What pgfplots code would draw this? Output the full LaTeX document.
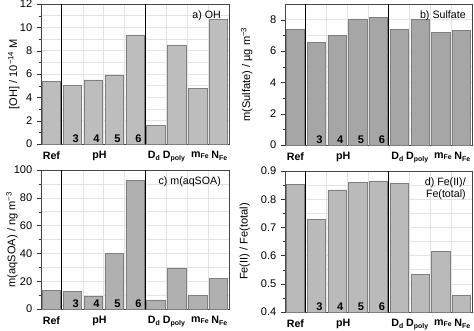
\documentclass[border=0pt]{standalone}
\usepackage{fontspec}
\setmainfont{Liberation Sans}
\usepackage{pgfplots}
\pgfplotsset{compat=1.18}
\definecolor{barA}{HTML}{BDBDBD}
\definecolor{barB}{HTML}{A6A6A6}
\definecolor{barC}{HTML}{B0B0B0}
\definecolor{barD}{HTML}{BABABA}
\definecolor{barEdge}{HTML}{7F7F7F}
\newcommand{\sub}[1]{\textsubscript{\fontsize{5.2}{6}\selectfont #1}}
\pgfplotsset{
 panel/.style={
  scale only axis, anchor=south west,
  xmin=-0.5, xmax=8.5,
  ybar, bar width=0.88,
  xtick={0,2.3,4.92,5.88,7.12,8.05},
  xticklabels={Ref,pH,D\sub{d},D\sub{poly},m\sub{Fe},N\sub{Fe}},
  xticklabel style={font=\fontsize{8}{9}\selectfont\bfseries, yshift=1pt},
  x tick style={draw=none},
  minor xtick={1.5,2.5,3.5,5.5,6.5,7.5},
  xminorgrids,
  extra x ticks={0.5,4.5},
  extra x tick labels={},
  extra x tick style={grid=major, major grid style={black, line width=0.9pt}},
  ymajorgrids, yminorgrids,
  grid style={gray!22},
  major grid style={gray!22},
  minor grid style={gray!22},
  minor y tick num=1,
  ytick pos=left, tick align=outside,
  major tick length=3pt, minor tick length=1.8pt,
  tick style={gray!40!black},
  axis line style={gray!55!black},
  yticklabel style={font=\fontsize{8.3}{9}\selectfont},
  ylabel style={font=\fontsize{8.3}{9}\selectfont, anchor=center},
  /pgf/number format/assume math mode=true,
  clip=true,
 },
}
\tikzset{
 lbl/.style={font=\fontsize{8.3}{9}\selectfont\bfseries, anchor=south, inner sep=1pt, xshift=2.5pt},
 ttl/.style={font=\fontsize{8}{9.5}\selectfont, anchor=north east, align=right, inner sep=1pt},
}
\begin{document}
\begin{tikzpicture}
\useasboundingbox (0,0) rectangle (355.5pt,247.5pt);
% a) OH
\begin{axis}[panel, at={(30.75pt,139.5pt)}, width=141pt, height=105pt,
  ymin=0, ymax=12, ytick={0,2,...,12},
  ylabel={[OH] / 10\textsuperscript{−14} M},
  ylabel style={at={(axis description cs:-0.145,0.5)}}]
\addplot[fill=barA, draw=barEdge] coordinates {(0,5.4) (1,5.05) (2,5.5) (3,5.85) (4,9.35) (5,1.6) (6,8.5) (7,4.8) (8,10.7)};
\node[ttl] at (rel axis cs:0.965,0.965) {a) OH};
\node[lbl] at (axis cs:1,0) {3};
\node[lbl] at (axis cs:2,0) {4};
\node[lbl] at (axis cs:3,0) {5};
\node[lbl] at (axis cs:4,0) {6};
\end{axis}
% b) Sulfate
\begin{axis}[panel, at={(213.75pt,138.75pt)}, width=140.25pt, height=105.75pt,
  ymin=0, ymax=9, ytick={0,2,...,8},
  ylabel={m(Sulfate) / µg m\textsuperscript{−3}},
  ylabel style={at={(axis description cs:-0.205,0.5)}}]
\addplot[fill=barB, draw=barEdge] coordinates {(0,7.4) (1,6.55) (2,7.0) (3,8.05) (4,8.15) (5,7.4) (6,8.0) (7,7.2) (8,7.3)};
\node[ttl] at (rel axis cs:0.975,0.965) {b) Sulfate};
\node[lbl] at (axis cs:1,0) {3};
\node[lbl] at (axis cs:2,0) {4};
\node[lbl] at (axis cs:3,0) {5};
\node[lbl] at (axis cs:4,0) {6};
\end{axis}
% c) aqSOA
\begin{axis}[panel, at={(30.75pt,15.75pt)}, width=141pt, height=104.25pt,
  ymin=0, ymax=100, ytick={0,20,...,100},
  ylabel={m(aqSOA) / ng m\textsuperscript{−3}},
  ylabel style={at={(axis description cs:-0.155,0.5)}}]
\addplot[fill=barC, draw=barEdge] coordinates {(0,13.5) (1,12.5) (2,9) (3,40) (4,92.5) (5,6.5) (6,29) (7,10) (8,22)};
\node[ttl] at (rel axis cs:0.965,0.965) {c) m(aqSOA)};
\node[lbl] at (axis cs:1,0) {3};
\node[lbl] at (axis cs:2,0) {4};
\node[lbl] at (axis cs:3,0) {5};
\node[lbl] at (axis cs:4,0) {6};
\end{axis}
% d) Fe ratio
\begin{axis}[panel, at={(213.75pt,13.5pt)}, width=140.25pt, height=105.75pt,
  ymin=0.4, ymax=0.9, ytick={0.4,0.5,...,0.9},
  yticklabel style={/pgf/number format/.cd, fixed, fixed zerofill, precision=1},
  ylabel={Fe(II) / Fe(total)},
  ylabel style={at={(axis description cs:-0.215,0.5)}}]
\addplot[fill=barD, draw=barEdge] coordinates {(0,0.852) (1,0.728) (2,0.833) (3,0.86) (4,0.865) (5,0.857) (6,0.533) (7,0.615) (8,0.46)};
\node[ttl] at (rel axis cs:0.975,0.965) {d) Fe(II)/\\Fe(total)};
\node[lbl] at (axis cs:1,0.4) {3};
\node[lbl] at (axis cs:2,0.4) {4};
\node[lbl] at (axis cs:3,0.4) {5};
\node[lbl] at (axis cs:4,0.4) {6};
\end{axis}
\end{tikzpicture}
\end{document}
